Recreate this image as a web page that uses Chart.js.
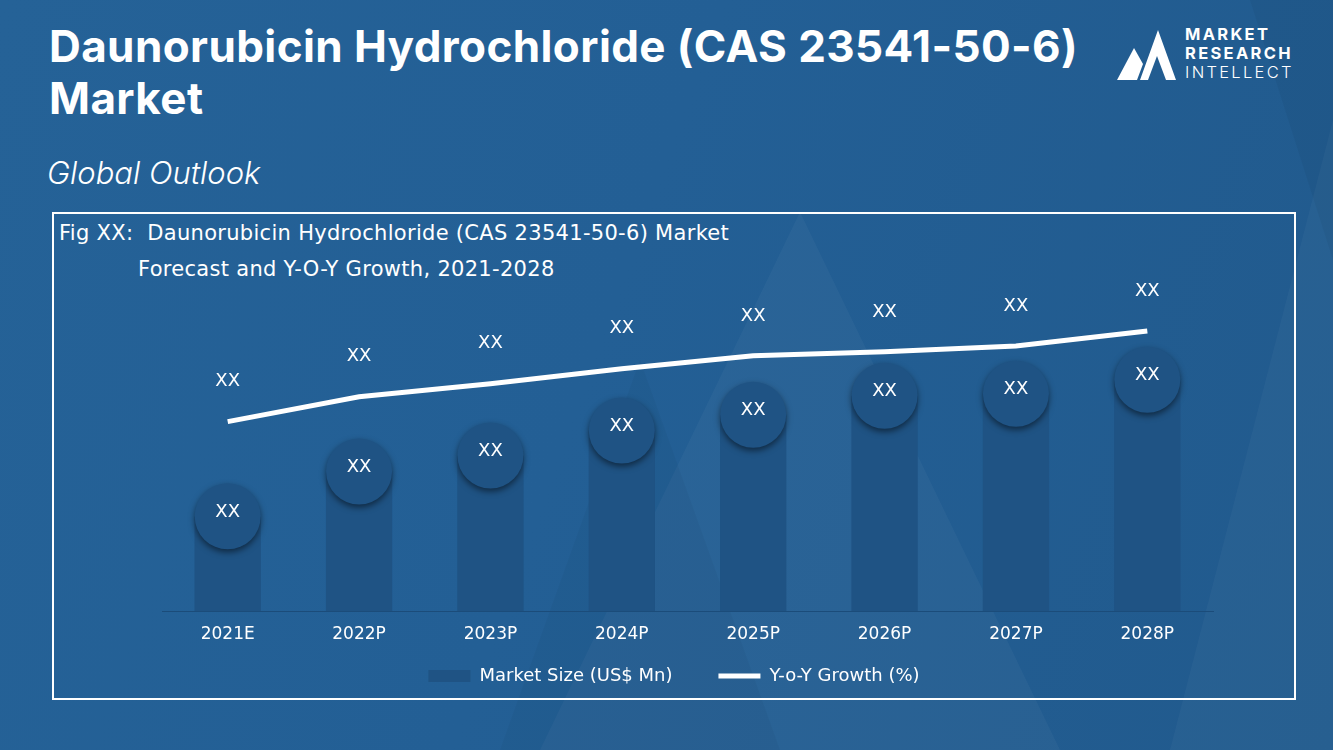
<!DOCTYPE html>
<html>
<head>
<meta charset="utf-8">
<script src="https://cdn.jsdelivr.net/npm/chart.js@4.4.1/dist/chart.umd.min.js"></script>
<style>
    html, body { margin: 0; padding: 0; }
    body {
        width: 1333px; height: 750px; overflow: hidden; position: relative;
        background: linear-gradient(110deg, #256297 0%, #235f95 45%, #215a8d 100%);
        font-family: Inter, "Open Sans", sans-serif; color: #fff;
    }
    .bg { position: absolute; left: 0; top: 0; }
    h1 {
        position: absolute; left: 49px; top: 20px; margin: 0;
        font-size: 44px; line-height: 52px; font-weight: 700; letter-spacing: 0.4px;
    }
    .sub {
        position: absolute; left: 47px; top: 155px;
        font-size: 31px; line-height: 36px; font-style: italic; font-weight: 300;
    }
    .logo { position: absolute; left: 1110px; top: 22px; }
    .logo-text { position: absolute; left: 1185px; top: 25px; font-size: 16.5px; line-height: 19px; letter-spacing: 2.3px; }
    .logo-text b { font-weight: 700; display: block; }
    .logo-text span { font-weight: 300; display: block; }
    .box {
        position: absolute; left: 52px; top: 212px; width: 1240px; height: 484px;
        border: 2px solid #fff;
    }
    .fig {
        position: absolute; left: 59px; top: 215px;
        font-family: "DejaVu Sans", sans-serif; font-size: 21px; line-height: 36px; letter-spacing: 0.3px;
    }
    .fig .l2 { padding-left: 79px; }
    #wrap { position: absolute; left: 54px; top: 214px; width: 1240px; height: 484px; }
</style>
</head>
<body>
<svg class="bg" width="1333" height="750">
    <polygon points="800,212 1060,750 540,750" fill="#ffffff" opacity="0.035"/>
    <polygon points="1333,120 1333,750 1170,750" fill="#ffffff" opacity="0.03"/>
    <polygon points="1250,0 1333,0 1333,260" fill="#000000" opacity="0.04"/>
    <polygon points="640,360 780,750 500,750" fill="#000000" opacity="0.03"/>
</svg>

<h1>Daunorubicin Hydrochloride (CAS 23541-50-6)<br>Market</h1>
<div class="sub">Global Outlook</div>

<svg class="logo" width="72" height="64">
    <polygon points="7,58 24,26 33,42 27,58" fill="#fff"/>
    <polygon points="30,58 48,8 66,58 56,58 47,34 38,58" fill="#fff"/>
</svg>
<div class="logo-text"><b>MARKET</b><b>RESEARCH</b><span>INTELLECT</span></div>

<div class="box"></div>
<div class="fig">Fig XX:&nbsp; Daunorubicin Hydrochloride (CAS 23541-50-6) Market<div class="l2">Forecast and Y-O-Y Growth, 2021-2028</div></div>

<div id="wrap"><canvas id="chart"></canvas></div>

<script>
const years = ['2021E', '2022P', '2023P', '2024P', '2025P', '2026P', '2027P', '2028P'];
const marketSize = [95, 140, 156, 181, 197, 216, 218, 232];
const yoyGrowth = [190, 215, 228, 243, 256, 260, 266, 281];
const barLabels = ['XX', 'XX', 'XX', 'XX', 'XX', 'XX', 'XX', 'XX'];
const lineLabels = ['XX', 'XX', 'XX', 'XX', 'XX', 'XX', 'XX', 'XX'];

const BAR = '#1f5384';
const FONT = '"DejaVu Sans", sans-serif';

// circles on top of each bar + the XX captions
const markers = {
    id: 'markers',
    afterDatasetsDraw(chart) {
        const ctx = chart.ctx;
        const bars = chart.getDatasetMeta(0).data;
        const pts = chart.getDatasetMeta(1).data;
        ctx.save();
        bars.forEach((bar) => {
            ctx.save();
            ctx.shadowColor = 'rgba(0, 0, 0, 0.5)';
            ctx.shadowBlur = 6;
            ctx.shadowOffsetY = 3;
            ctx.beginPath();
            ctx.arc(bar.x, bar.y, 33, 0, Math.PI * 2);
            ctx.fillStyle = BAR;
            ctx.fill();
            ctx.restore();
        });
        ctx.fillStyle = '#fff';
        ctx.font = '18px ' + FONT;
        ctx.textAlign = 'center';
        ctx.textBaseline = 'middle';
        bars.forEach((bar, i) => ctx.fillText(barLabels[i], bar.x, bar.y - 4));
        pts.forEach((p, i) => ctx.fillText(lineLabels[i], p.x, p.y - 40));
        ctx.restore();
    }
};

new Chart(document.getElementById('chart'), {
    data: {
        labels: years,
        datasets: [
            {
                type: 'bar',
                label: 'Market Size (US$ Mn)',
                data: marketSize,
                backgroundColor: BAR,
                borderWidth: 0,
                barPercentage: 0.505,
                categoryPercentage: 1,
                pointStyle: 'rect',
            },
            {
                type: 'line',
                label: 'Y-o-Y Growth (%)',
                data: yoyGrowth,
                borderColor: '#ffffff',
                backgroundColor: '#ffffff',
                borderWidth: 5,
                pointRadius: 0,
                tension: 0,
                pointStyle: 'line',
            },
        ],
    },
    options: {
        responsive: true,
        maintainAspectRatio: false,
        animation: false,
        layout: { padding: { top: 98, left: 108, right: 81, bottom: 3 } },
        plugins: {
            legend: {
                position: 'bottom',
                labels: {
                    color: '#ffffff',
                    font: { family: FONT, size: 18 },
                    usePointStyle: true,
                    pointStyleWidth: 42,
                    boxHeight: 12,
                    padding: 10,
                    // wider gap between entries; trailing space nudges the legend left
                    generateLabels(chart) {
                        const items = Chart.defaults.plugins.legend.labels.generateLabels(chart);
                        items[0].text += '\u2003\u2003';
                        items[1].text += '\u2003\u2002';
                        return items;
                    },
                },
            },
            tooltip: { enabled: false },
        },
        scales: {
            y: { display: false, min: 0, max: 300 },
            x: {
                grid: { display: false },
                border: { color: '#1b4c7a', width: 1 },
                ticks: { color: '#ffffff', font: { family: FONT, size: 17 }, padding: 5 },
                afterFit(scale) { scale.height = 46; },
            },
        },
    },
    plugins: [markers],
});
</script>
</body>
</html>
